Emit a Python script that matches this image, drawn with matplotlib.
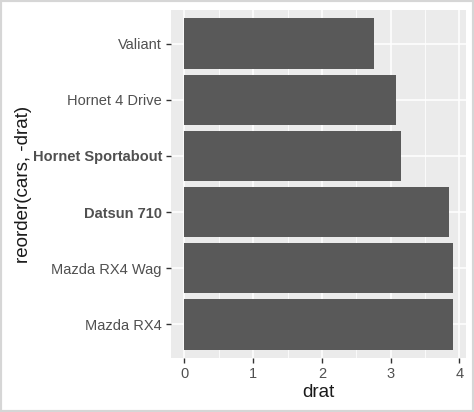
import matplotlib
matplotlib.use("Agg")
import matplotlib.pyplot as plt
from matplotlib.patches import Rectangle

cars = ["Mazda RX4", "Mazda RX4 Wag", "Datsun 710", "Hornet Sportabout", "Hornet 4 Drive", "Valiant"]
drat = [3.90, 3.90, 3.85, 3.15, 3.08, 2.76]
bold_labels = ["Datsun 710", "Hornet Sportabout"]
xticks = [0, 1, 2, 3, 4]

plt.rcParams['font.family'] = ['Liberation Sans', 'DejaVu Sans']

fig = plt.figure(figsize=(4.74, 4.12), dpi=100)
ax = fig.add_axes([171/474, 1 - 358/412, (466 - 171)/474, (358 - 10)/412])
ax.set_facecolor("#ebebeb")

ypos = list(range(1, len(cars) + 1))
ax.barh(ypos, drat, height=0.9, color="#595959", zorder=3)

ax.set_xlim(-0.195, 3.9 + 0.195)
ax.set_ylim(0.4, len(cars) + 0.6)
ax.set_xticks(xticks)
ax.set_xticklabels([str(t) for t in xticks])
ax.set_xticks([0.5, 1.5, 2.5, 3.5], minor=True)
ax.set_yticks(ypos)
ax.set_yticklabels(cars)
for lab in ax.get_yticklabels():
    if lab.get_text() in bold_labels:
        lab.set_fontweight("bold")

ax.grid(which="major", color="white", linewidth=1.1, zorder=1)
ax.grid(which="minor", axis="x", color="white", linewidth=0.55, zorder=1)
ax.set_axisbelow(True)
for s in ax.spines.values():
    s.set_visible(False)

ax.tick_params(axis="both", which="major", colors="#333333", length=3.5, width=1.0,
               labelsize=10.5, labelcolor="#505050", pad=3)
ax.tick_params(axis="both", which="minor", length=0)

ax.set_xlabel("drat", fontsize=13.5, color="#1a1a1a", labelpad=2)
ax.set_ylabel("reorder(cars, -drat)", fontsize=13.5, color="#1a1a1a", labelpad=0.5)

fig.patches.append(Rectangle((0, 0), 1, 1, transform=fig.transFigure, fill=False,
                             edgecolor="#d6d6d6", linewidth=3, zorder=10))

fig.savefig("out.png", dpi=100, facecolor="white")
